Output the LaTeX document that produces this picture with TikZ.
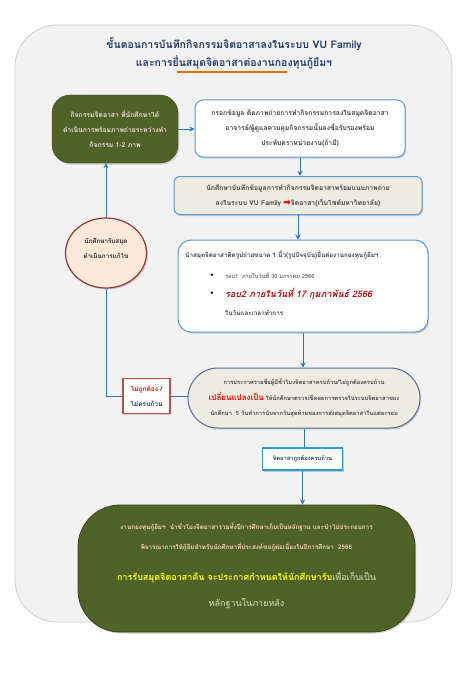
\documentclass[tikz,border=0pt]{standalone}
\usepackage{fontspec}
\setmainfont[Script=Thai]{Loma}
\newfontfamily\symf{DejaVu Sans}
\usetikzlibrary{arrows.meta,shapes.geometric,shadows}
\definecolor{panel}{HTML}{F2F2F2}
\definecolor{panelline}{HTML}{D0D0D0}
\definecolor{olive}{HTML}{4F6228}
\definecolor{pinktxt}{HTML}{F2DCDB}
\definecolor{peachtxt}{HTML}{FCD5B4}
\definecolor{lgreentxt}{HTML}{D7E4BD}
\definecolor{ylw}{HTML}{FFFF00}
\definecolor{boxblue}{HTML}{5B9BD5}
\definecolor{beige}{HTML}{EEECE1}
\definecolor{slate}{HTML}{4F6D9B}
\definecolor{darkred}{HTML}{943634}
\definecolor{peach}{HTML}{FDE9D9}
\definecolor{redb}{HTML}{C0504D}
\definecolor{navy}{HTML}{1F3864}
\definecolor{conncol}{HTML}{2E75B6}
\definecolor{brightblue}{HTML}{2E9BD6}
\definecolor{txtred}{HTML}{C00000}
\definecolor{txtgray}{HTML}{404040}
\definecolor{titleline}{HTML}{E46C0A}
\begin{document}
\begin{tikzpicture}[x=1pt,y=-1pt,
  shad/.style={drop shadow={opacity=0.35,shadow xshift=1.2pt,shadow yshift=-1.5pt}},
  conn/.style={draw=conncol,line width=1pt},
  arr/.style={-{Stealth[length=5pt,width=5pt]}},
  small/.style={font=\fontsize{6.3}{15}\selectfont\bfseries},
  med/.style={font=\fontsize{6.8}{15}\selectfont\bfseries},
  txt/.style={inner sep=0pt}
]
\useasboundingbox (0,0) rectangle (474,674);
% outer panel
\draw[fill=panel,draw=panelline,line width=0.8pt,rounded corners=42] (15,25) rectangle (452,622);
% title
\node[txt,text=navy,font=\fontsize{10.5}{18}\selectfont\bfseries,align=center] (title) at (234,53)
  {ขั้นตอนการบันทึกกิจกรรมจิตอาสาลงในระบบ VU Family\\และการยื่นสมุดจิตอาสาต่องานกองทุนกู้ยืมฯ};
\draw[titleline,line width=1.2pt] (177,72) -- (287,72);
% green box
\node[shad,fill=olive,draw=olive!80!black,rounded corners=18,minimum width=126,minimum height=68,
  text=pinktxt,med,align=center,inner sep=0pt] (green) at (115,129)
  {กิจกรรมจิตอาสา ที่นักศึกษาได้\\ดำเนินการพร้อมภาพถ่ายระหว่างทำ\\กิจกรรม 1-2 ภาพ};
% box1
\node[shad,fill=white,draw=boxblue,line width=1pt,rounded corners=8,minimum width=210,minimum height=57,
  text=txtgray,med,align=center,inner sep=0pt] (box1) at (300,128.5)
  {กรอกข้อมูล ติดภาพถ่ายการทำกิจกรรมการลงในสมุดจิตอาสา\\อาจารย์/ผู้ดูแลควบคุมกิจกรรมนั้นลงชื่อรับรองพร้อม\\ประทับตราหน่วยงาน(ถ้ามี)};
% box2
\node[shad,fill=beige,draw=boxblue,line width=1pt,rounded corners=6,minimum width=248,minimum height=38,
  text=txtgray,med,align=center,inner sep=0pt] (box2) at (298,195.5)
  {นักศึกษาบันทึกข้อมูลการทำกิจกรรมจิตอาสาพร้อมแนบภาพถ่าย\\ลงในระบบ VU Family {\color{red}\symf\fontsize{9}{15}\selectfont ➡}จิตอาสา(เว็บไซต์มหาวิทยาลัย)};
% box3
\node[shad,fill=white,draw=boxblue,line width=1pt,rounded corners=13,minimum width=250,minimum height=92] (box3) at (303,286) {};
\node[txt,anchor=west,text=txtgray,small] (b3l1) at (185,255) {นำสมุดจิตอาสาติดรูปถ่ายขนาด 1 นิ้ว(รูปปัจจุบัน)ยื่นต่องานกองทุนกู้ยืมฯ};
\node[txt,font=\fontsize{7}{8}\selectfont] (bul1) at (212,276) {•};
\node[txt,anchor=west,text=txtgray,font=\fontsize{5.6}{8}\selectfont] (b3l2) at (225,276) {รอบ1\ \ ภายในวันที่ 30 มกราคม 2566};
\node[txt,font=\fontsize{7}{8}\selectfont] (bul2) at (212,294) {•};
\node[txt,anchor=west,text=txtred,font=\fontsize{9}{11}\selectfont\bfseries\itshape] (b3l3) at (225,294) {รอบ2 ภายในวันที่ 17 กุมภาพันธ์ 2566};
\node[txt,anchor=west,text=txtgray,small] (b3l4) at (225,313) {ในวันและเวลาทำการ};
% ellipse
\node[shad,ellipse,fill=peach,draw=darkred,line width=1.2pt,minimum width=81,minimum height=70,inner sep=0pt] (ell) at (106,253) {};
\node[txt,text=black!85,small,align=center] (elltxt) at (106,248) {นักศึกษารับสมุด\\ดำเนินการแก้ไข};
% red box
\node[shad,fill=white,draw=redb,line width=1.2pt,minimum width=47,minimum height=35,inner sep=0pt,
  font=\fontsize{6.6}{15}\selectfont\bfseries,align=center] (redbox) at (146.5,396)
  {{\color{red}ไม่ถูกต้อง} {\color{navy}/}\\{\color{navy}ไม่ครบถ้วน}};
% stadium
\node[shad,fill=beige,draw=slate,line width=1pt,rounded corners=30,minimum width=232,minimum height=60,
  text=txtgray,font=\fontsize{5.8}{15.5}\selectfont\bfseries,align=center,inner sep=0pt] (stad) at (304,398)
  {การประกาศรายชื่อผู้มีชั่วโมงจิตอาสาครบถ้วน/ไม่ถูกต้องครบถ้วน\\
   {\color{red}\fontsize{8}{15.5}\selectfont เปลี่ยนแปลงเป็น} ให้นักศึกษาตรวจเช็คผลการตรวจในระบบจิตอาสาของ\\
   นักศึกษา\ \ 5 วันทำการนับจากวันสุดท้ายของการส่งสมุดจิตอาสาในแต่ละรอบ};
% small box
\node[shad,fill=white,draw=brightblue,line width=1.6pt,minimum width=80,minimum height=22,inner sep=0pt,
  text=navy,font=\fontsize{5.8}{8}\selectfont\bfseries] (okbox) at (302.5,459)
  {จิตอาสาถูกต้องครบถ้วน};
% bottom green
\node[shad,fill=olive,draw=olive!70!black,line width=0.8pt,rounded corners=42,minimum width=337,minimum height=127] (final) at (246.5,568.5) {};
\node[txt,text=peachtxt,small] (f1) at (246.5,527) {งานกองทุนกู้ยืมฯ\ \ นำชั่วโมงจิตอาสารวมทั้งปีการศึกษาเก็บเป็นหลักฐาน และนำไปประกอบการ};
\node[txt,text=peachtxt,small] (f2) at (246.5,547) {พิจารณาการให้กู้ยืมสำหรับนักศึกษาที่ประสงค์ขอกู้ต่อเนื่องในปีการศึกษา\ \ 2566};
\node[txt,font=\fontsize{9}{12}\selectfont] (f3) at (246.5,577) {{\bfseries\color{ylw}การรับสมุดจิตอาสาคืน จะประกาศกำหนดให้นักศึกษารับ}{\color{lgreentxt}เพื่อเก็บเป็น}};
\node[txt,font=\fontsize{9}{12}\selectfont,text=lgreentxt] (f4) at (246.5,604) {หลักฐานในภายหลัง};
% connectors
\draw[conn,arr] (green.east) -- (green.east -| box1.west);
\draw[conn,arr] (box1.south) -- (box1.south |- box2.north);
\draw[conn,arr] (box2.south) -- (box2.south |- box3.north);
\draw[conn,arr] (box3.south) -- (box3.south |- stad.north);
\draw[conn] (stad.south) -- (stad.south |- okbox.north);
\draw[conn,arr] (okbox.south) -- (okbox.south |- final.north);
\draw[conn] (redbox.east) -- (redbox.east -| stad.west);
\draw[conn] (redbox.west) -| (ell.south);
\draw[conn,arr] (ell.north) -- (ell.north |- green.south);
\end{tikzpicture}
\end{document}
